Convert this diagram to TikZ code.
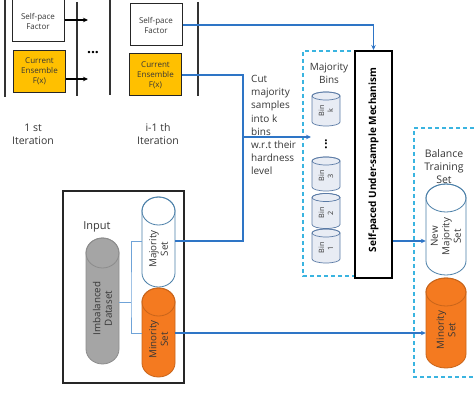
\documentclass[tikz,border=0pt]{standalone}
\usepackage{fontspec}
\setmainfont{Open Sans}
\usetikzlibrary{arrows.meta}
\definecolor{lineblue}{HTML}{2E75C6}
\definecolor{thinblue}{HTML}{6FA3D8}
\definecolor{dashcyan}{HTML}{3AB4E0}
\definecolor{ensyellow}{HTML}{FFC000}
\definecolor{minorange}{HTML}{F47A20}
\definecolor{minborder}{HTML}{C8641A}
\definecolor{imbgray}{HTML}{A5A5A5}
\definecolor{imbborder}{HTML}{8C8C8C}
\definecolor{majborder}{HTML}{4A7FA8}
\definecolor{binfill}{HTML}{E8ECF4}
\definecolor{binborder}{HTML}{5A7AA5}
\definecolor{txt}{HTML}{363636}
% #1 name, #2 cx, #3 cy, #4 length, #5 diameter, #6 cap y-radius, #7 shape style, #8 text style, #9 text
\newcommand{\mycyl}[9]{%
  \node[minimum width=#5pt,minimum height=#4pt,inner sep=0pt] (#1) at (#2,#3) {};
  \path[#7] ({#2-#5/2},{#3-#4/2+#6}) -- ({#2-#5/2},{#3+#4/2-#6})
     arc[start angle=180,end angle=360,x radius={#5/2*1pt},y radius={#6*1pt}]
     -- ({#2+#5/2},{#3-#4/2+#6})
     arc[start angle=0,end angle=180,x radius={#5/2*1pt},y radius={#6*1pt}] -- cycle;
  \path[#7,fill=none] (#2,{#3-#4/2+#6}) ellipse[x radius={#5/2*1pt},y radius={#6*1pt}];
  \node[cyltext,#8] (#1-t) at (#2,{#3+#6/2}) {#9};
}
\begin{document}
\begin{tikzpicture}[x=1pt,y=-1pt,
  iterline/.style={draw=black!80,line width=1.2pt},
  spbox/.style={draw=black!85,line width=1pt,fill=white,minimum width=52pt,minimum height=42pt,inner sep=0pt,align=center,text=txt,font=\fontsize{8}{10}\selectfont},
  cebox/.style={spbox,fill=ensyellow},
  label/.style={text=txt,align=center,inner sep=0pt,font=\fontsize{10.5}{13}\selectfont},
  blueline/.style={draw=lineblue,line width=1.3pt},
  bluearrow/.style={blueline,-{Stealth[length=5pt,width=4.5pt]}},
  blackarrow/.style={draw=black,line width=1.2pt,-{Stealth[length=5pt,width=4.5pt]}},
  thinline/.style={draw=thinblue,line width=0.6pt},
  dashbox/.style={draw=dashcyan,line width=1.5pt,dash pattern=on 4pt off 3pt},
  cyltext/.style={rotate=90,align=center,inner sep=0pt,text=txt},
  ftbig/.style={font=\fontsize{9.8}{11.5}\selectfont},
  ftsmall/.style={font=\fontsize{7.3}{9}\selectfont},
  majcyl/.style={fill=white,draw=majborder,line width=0.8pt},
  mincyl/.style={fill=minorange,draw=minborder,line width=0.8pt},
  imbcyl/.style={fill=imbgray,draw=imbborder,line width=0.8pt},
  bincyl/.style={fill=binfill,draw=binborder,line width=0.7pt},
  mechbox/.style={draw=black,line width=2pt,fill=white,minimum width=37pt,minimum height=227pt,inner sep=0pt}
]
\useasboundingbox (0,0) rectangle (474,401);

% iteration columns
\draw[iterline] (5,0) -- (5,97);
\draw[iterline] (77,2) -- (77,96);
\draw[iterline] (110,0) -- (110,95);
\draw[iterline] (198,2) -- (198,96);

\node[spbox] (sp1) at (38,21) {Self-pace\\Factor};
\node[cebox] (ce1) at (39.5,71.5) {Current\\Ensemble\\F(x)};
\node[spbox] (sp2) at (156,25) {Self-pace\\Factor};
\node[cebox] (ce2) at (155.5,75) {Current\\Ensemble\\F(x)};

\coordinate (a1) at (88,20);
\coordinate (a2) at (88,79);
\draw[blackarrow] (sp1.east |- a1) -- (a1);
\draw[blackarrow] (ce1.east |- a2) -- (a2);
\node[font=\fontsize{14}{14}\selectfont\bfseries,inner sep=0pt] (dots) at (93,53) {...};

\node[label] (it1) at (33,134) {1 st\\Iteration};
\node[label] (it2) at (158,134) {i-1 th\\Iteration};

% explanatory text
\node[text=txt,align=left,inner sep=0pt,anchor=north west,font=\fontsize{10}{13.2}\selectfont] (cut) at (251,75) {Cut\\majority\\samples\\into k\\bins\\w.r.t their\\hardness\\level};

% majority bins
\draw[dashbox] (358,51) -- (303,51) -- (303,276) -- (358,276);
\node[label,font=\fontsize{10}{13}\selectfont] (mbt) at (329,73) {Majority\\Bins};
\mycyl{bink}{326}{109}{34}{28}{4}{bincyl}{ftsmall}{Bin\\k}
\node[font=\fontsize{12}{12}\selectfont\bfseries,rotate=90,inner sep=0pt] (bdots) at (326,144) {...};
\mycyl{bin3}{326}{174}{34}{28}{4}{bincyl}{ftsmall}{Bin\\3}
\mycyl{bin2}{326}{211}{35}{28}{4}{bincyl}{ftsmall}{Bin\\2}
\mycyl{bin1}{326}{246}{34}{28}{4}{bincyl}{ftsmall}{Bin\\1}

% mechanism
\node[mechbox] (mech) at (373.5,164.5) {};
\node[rotate=90,font=\fontsize{10}{12}\selectfont\bfseries,inner sep=0pt] (mecht) at (373.5,160) {Self-paced Under-sample Mechanism};

% balance training set
\draw[dashbox] (474,128) -- (414,128) -- (414,377) -- (474,377);
\node[label] (btt) at (444,167) {Balance\\Training\\Set};
\mycyl{newmaj}{446}{229.5}{91}{40}{14}{majcyl}{ftbig}{New\\Majority\\Set}
\mycyl{newmin}{446}{323}{90}{40}{14}{mincyl}{ftbig}{Minority\\Set}

% input box
\draw[draw=black!85,line width=1.2pt] (63,191) rectangle (184,383);
\node[label,font=\fontsize{11}{13}\selectfont] (inp) at (97,227) {Input};
\mycyl{imb}{102.5}{301}{126}{33}{15}{imbcyl}{ftbig}{Imbalanced\\Dataset}
\mycyl{majin}{158.5}{242}{90}{33}{14}{majcyl}{ftbig}{Majority\\Set}
\mycyl{minin}{158.5}{332.5}{89}{33}{14}{mincyl}{ftbig}{Minority\\Set}

\coordinate (split) at (131,302);
\draw[thinline] (imb.east |- split) -- (split);
\draw[thinline] (majin.west |- 0,241) -| (split) |- (minin.west |- 0,333);

% blue connectors
\coordinate (j1) at (243,75);
\coordinate (j2) at (243,241);
\coordinate (j3) at (243,137);
\coordinate (binin) at (311,137);
\coordinate (j4) at (243,333);
\draw[blueline] (ce2.east) -- (j1) -- (j2) -- (majin.east |- j2);
\draw[bluearrow] (j3) -- (binin);
\draw[bluearrow] (sp2.east) -| (mech.north);
\draw[bluearrow] (mech.east |- j2) -- (newmaj.west |- j2);
\draw[bluearrow] (minin.east |- j4) -- (newmin.west |- j4);
\end{tikzpicture}
\end{document}
